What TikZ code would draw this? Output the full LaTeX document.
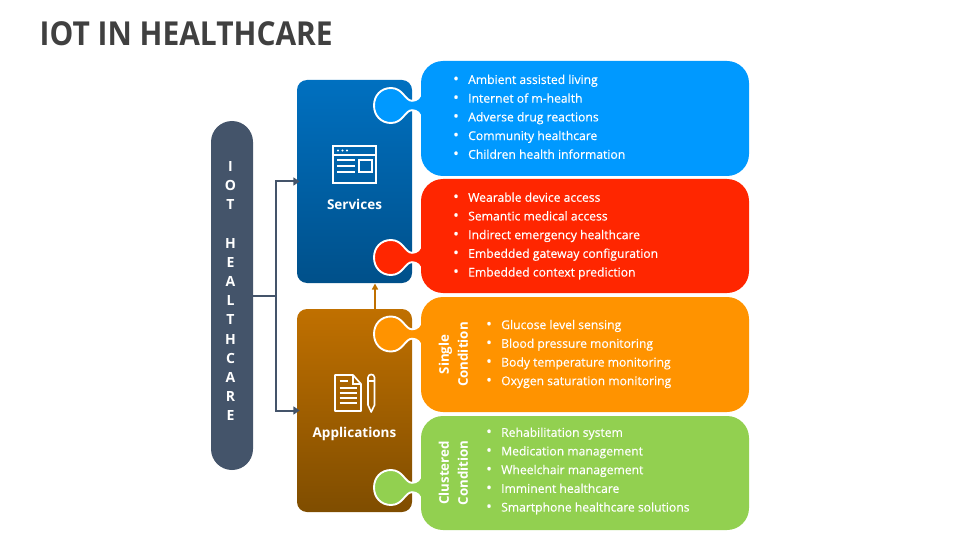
\documentclass[tikz,border=0pt]{standalone}
\usepackage{fontspec}
\setmainfont{Open Sans}
\newfontfamily\semi[FakeBold=0.35]{Open Sans}
\newfontfamily\ttlf[FakeStretch=0.907]{Open Sans}
\usetikzlibrary{arrows.meta}
\definecolor{slate}{HTML}{44546A}
\definecolor{ttl}{HTML}{404040}
\definecolor{cblue}{HTML}{0099FF}
\definecolor{cred}{HTML}{FF2600}
\definecolor{corange}{HTML}{FF9300}
\definecolor{cgreen}{HTML}{92D050}
\definecolor{btop}{HTML}{0070C0}
\definecolor{bbot}{HTML}{00508A}
\definecolor{atop}{HTML}{C07000}
\definecolor{abot}{HTML}{7F4D00}
\tikzset{
  x=1pt,y=-1pt,
  leftcard/.style={minimum width=115pt,minimum height=203pt,rounded corners=10pt,inner sep=0pt,shading angle=0},
  rightcard/.style={minimum width=328pt,minimum height=115pt,rounded corners=22pt,inner sep=0pt},
  tabout/.style={draw=white,line width=1.9pt},
  listtxt/.style={anchor=west,text=white,align=left,inner sep=0pt,font=\fontsize{12.15}{18.7}\semi},
  sidetxt/.style={rotate=90,text=white,align=center,inner sep=0pt,font=\fontsize{13.3}{19}\selectfont\bfseries},
  cardttl/.style={text=white,inner sep=0pt,font=\fontsize{13.5}{16}\selectfont\bfseries},
  link/.style={draw=slate,line width=2pt,-{Triangle[length=6.5pt,width=8pt]},shorten >=-3pt},
  icon/.style={draw=white,line width=2pt},
}
\newcommand{\bul}{\makebox[15pt][l]{\fontsize{15}{15}\selectfont•}}
\begin{document}
\begin{tikzpicture}
\useasboundingbox (0,0) rectangle (960,540);
\node[anchor=base west,inner sep=0pt,text=ttl,font=\fontsize{33}{36}\ttlf\bfseries] (title) at (39.5,46) {IOT IN HEALTHCARE};
% spine
\node[fill=slate,rounded corners=21pt,minimum width=42pt,minimum height=349pt,inner sep=0pt] (spine) at (232,295.5) {};
\node[text=white,align=center,inner sep=0pt,font=\fontsize{14}{19.2}\selectfont\bfseries] (spinetxt) at (230.5,291) {I\\O\\T\\~\\H\\E\\A\\L\\T\\H\\C\\A\\R\\E};
% left cards
\node[leftcard,top color=btop,bottom color=bbot] (services) at (354.5,181.5) {};
\node[leftcard,top color=atop,bottom color=abot] (apps) at (354.5,410.5) {};
% tabs
\newcommand{\puzzletab}[2]{%
  \begin{scope}[yshift=#1*-1pt]
  \path[fill=#2,tabout] (424,-14) -- (421,-14) .. controls (421,-8) and (417,-4.7) .. (412,-4.7) .. controls (405,-4.7) and (403,-17.5) .. (391,-17.5) .. controls (381,-17.5) and (374,-10) .. (374,0) .. controls (374,10) and (381,17.5) .. (391,17.5) .. controls (403,17.5) and (405,4.7) .. (412,4.7) .. controls (417,4.7) and (421,8) .. (421,14) -- (424,14) -- cycle;
  \end{scope}}
\puzzletab{105.5}{cblue}
\puzzletab{257.5}{cred}
\puzzletab{334}{corange}
\puzzletab{487.5}{cgreen}
% right cards
\node[rightcard,fill=cblue] (c1) at (585,118.5) {};
\node[rightcard,fill=cred,minimum height=114pt] (c2) at (585,236) {};
\node[rightcard,fill=corange] (c3) at (585,354.5) {};
\node[rightcard,fill=cgreen,minimum height=114pt] (c4) at (585,473) {};
% lists
\node[listtxt] (l1) at (453,116.8) {\bul Ambient assisted living\\\bul Internet of m-health\\\bul Adverse drug reactions\\\bul Community healthcare\\\bul Children health information};
\node[listtxt] (l2) at (453,236) {\bul Wearable device access\\\bul Semantic medical access\\\bul Indirect emergency healthcare\\\bul Embedded gateway configuration\\\bul Embedded context prediction};
\node[listtxt] (l3) at (486,354) {\bul Glucose level sensing\\\bul Blood pressure monitoring\\\bul Body temperature monitoring\\\bul Oxygen saturation monitoring};
\node[listtxt] (l4) at (486,471) {\bul Rehabilitation system\\\bul Medication management\\\bul Wheelchair management\\\bul Imminent healthcare\\\bul Smartphone healthcare solutions};
\node[sidetxt] (s1) at (453.5,354.5) {Single\\Condition};
\node[sidetxt] (s2) at (453.5,473) {Clustered\\Condition};
\node[cardttl] (t1) at (354.5,204.2) {Services};
\node[cardttl] (t2) at (354.5,433.5) {Applications};
% connectors
\coordinate (elbow) at (276,296);
\draw[link] (spine.east |- elbow) -- (elbow) |- (services.west);
\draw[link] (spine.east |- elbow) -- (elbow) |- (apps.west);
\draw[draw=atop,line width=1.5pt,-{Triangle[length=6pt,width=6pt]}] (375,309) -- (375,283.5);
% window icon
\draw[icon] (332.5,146) rectangle (376,183);
\draw[icon] (332.5,155) -- (376,155);
\fill[white] (338,150.5) circle (1.2) (342.5,150.5) circle (1.2) (347,150.5) circle (1.2);
\draw[icon] (337,160) -- (355,160) (337,166) -- (355,166) (337,172) -- (355,172);
\draw[icon] (359,160) rectangle (371.5,172);
% document icon
\draw[icon,line width=1.7pt,line join=round] (335,375) -- (353,375) -- (361,384) -- (361,411) -- (335,411) -- cycle;
\draw[icon,line width=1.3pt] (353,375) -- (353,384) -- (361,384);
\draw[icon,line width=1.8pt] (339.5,381) -- (348,381) (339.5,388) -- (356.5,388) (339.5,393) -- (356.5,393) (339.5,398) -- (356.5,398) (339.5,403) -- (356.5,403);
% pencil icon
\draw[icon,line width=1.6pt,line join=round] (368,405) -- (368,377.5) .. controls (368,373.5) and (374.5,373.5) .. (374.5,377.5) -- (374.5,405) -- (371.2,412) -- cycle;
\draw[icon,line width=1.3pt] (368,381) -- (374.5,381);
\end{tikzpicture}
\end{document}
